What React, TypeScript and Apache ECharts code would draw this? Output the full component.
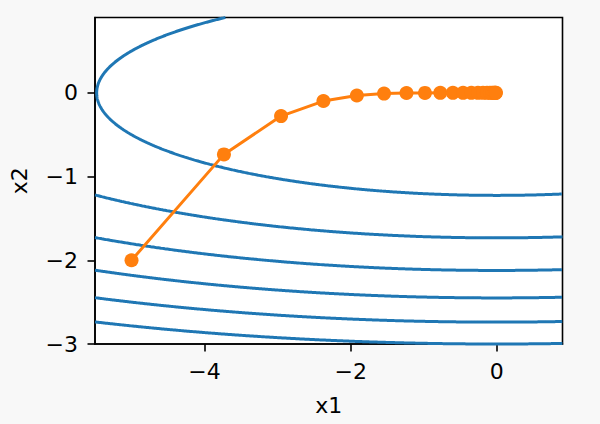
import React, { useEffect, useRef } from "react";
import * as echarts from "echarts";

// Axis ranges and tick labels
const x1Range = [-5.5, 0.9];
const x2Range = [-3, 0.9];
const x1Ticks = [-4, -2, 0];
const x2Ticks = [-3, -2, -1, 0];

// Objective f(x1, x2) = a*x1^2 + b*x2^2 and its contour levels
const coefX1 = 0.1;
const coefX2 = 2;
const contourLevels = [3, 6, 9, 12, 15, 18];

// Optimisation trajectory
const trajX1 = [
  -5, -3.735, -2.953, -2.373, -1.915, -1.543, -1.236, -0.983, -0.773, -0.601,
  -0.461, -0.348, -0.258, -0.188, -0.134, -0.094, -0.064, -0.043, -0.028,
  -0.017, -0.011,
];
const trajX2 = [
  -2, -0.735, -0.278, -0.098, -0.031, -0.0087, -0.0021, -0.0004, 0, 0, 0, 0,
  0, 0, 0, 0, 0, 0, 0, 0, 0,
];

const BLUE = "#1f77b4";
const ORANGE = "#ff7f0e";
const FONT = "DejaVu Sans";

function inside(p: number[]): boolean {
  return (
    p[0] >= x1Range[0] - 1e-9 &&
    p[0] <= x1Range[1] + 1e-9 &&
    p[1] >= x2Range[0] - 1e-9 &&
    p[1] <= x2Range[1] + 1e-9
  );
}

// Level curve of f inside the plotted domain, split into arcs
function levelArcs(level: number): number[][][] {
  const rx = Math.sqrt(level / coefX1);
  const ry = Math.sqrt(level / coefX2);
  const at = (t: number) => [rx * Math.cos(t), ry * Math.sin(t)];
  const n = 6000;
  const arcs: number[][][] = [];
  let cur: number[][] | null = null;
  let prevT = 0;
  let prevIn = inside(at(0));
  if (prevIn) cur = [at(0)];
  for (let i = 1; i <= n; i++) {
    const t = (i / n) * Math.PI * 2;
    const p = at(t);
    const isIn = inside(p);
    if (isIn !== prevIn) {
      // bisection for the boundary crossing
      let a = prevT;
      let b = t;
      for (let k = 0; k < 40; k++) {
        const m = (a + b) / 2;
        if (inside(at(m)) === prevIn) a = m;
        else b = m;
      }
      const edge = at(prevIn ? a : b);
      if (prevIn && cur) {
        cur.push(edge);
        arcs.push(cur);
        cur = null;
      } else {
        cur = [edge];
      }
    }
    if (isIn && cur) cur.push(p);
    prevIn = isIn;
    prevT = t;
  }
  if (cur && cur.length > 1) arcs.push(cur);
  return arcs;
}

const fmt = (v: number) => (v < 0 ? "\u2212" + Math.abs(v) : String(v));

export default function App() {
  const ref = useRef<HTMLDivElement>(null);
  useEffect(() => {
    if (!ref.current) return;
    const chart = echarts.init(ref.current, null, { renderer: "svg" });
    const contourSeries: any[] = [];
    contourLevels.forEach((lv) => {
      levelArcs(lv).forEach((arc) => {
        contourSeries.push({
          type: "line",
          data: arc,
          showSymbol: false,
          symbol: "none",
          silent: true,
          clip: false,
          lineStyle: { color: BLUE, width: 3 },
          z: 2,
        });
      });
    });
    chart.setOption({
      animation: false,
      backgroundColor: "#f8f8f8",
      grid: {
        left: 93,
        top: 17.5,
        right: 37.5,
        bottom: 80,
        show: true,
        backgroundColor: "#ffffff",
        borderColor: "#000",
        borderWidth: 1.6,
      },
      xAxis: {
        type: "value",
        min: x1Range[0],
        max: x1Range[1],
        name: "x1",
        nameLocation: "middle",
        nameGap: 50,
        nameTextStyle: { fontFamily: FONT, fontSize: 22, color: "#000" },
        axisLine: { show: true, onZero: false, lineStyle: { color: "#000", width: 1.6 } },
        axisTick: { show: true, length: 7.5, lineStyle: { color: "#000", width: 1.6 }, customValues: x1Ticks },
        axisLabel: {
          show: true,
          margin: 16,
          fontFamily: FONT,
          fontSize: 22,
          color: "#000",
          customValues: x1Ticks,
          formatter: fmt,
        },
        splitLine: { show: false },
      },
      yAxis: {
        type: "value",
        min: x2Range[0],
        max: x2Range[1],
        name: "x2",
        nameLocation: "middle",
        nameGap: 65,
        nameTextStyle: { fontFamily: FONT, fontSize: 22, color: "#000" },
        axisLine: { show: true, onZero: false, lineStyle: { color: "#000", width: 1.6 } },
        axisTick: { show: true, length: 7.5, lineStyle: { color: "#000", width: 1.6 }, customValues: x2Ticks },
        axisLabel: {
          show: true,
          margin: 17,
          fontFamily: FONT,
          fontSize: 22,
          color: "#000",
          customValues: x2Ticks,
          formatter: fmt,
        },
        splitLine: { show: false },
      },
      series: [
        ...contourSeries,
        {
          type: "line",
          data: trajX1.map((x, i) => [x, trajX2[i]]),
          symbol: "circle",
          symbolSize: 14,
          showSymbol: true,
          showAllSymbol: true,
          clip: true,
          itemStyle: { color: ORANGE, borderWidth: 0 },
          lineStyle: { color: ORANGE, width: 3 },
          z: 3,
        },
      ],
    });
    return () => chart.dispose();
  }, []);
  return (
    <div
      ref={ref}
      style={{ position: "fixed", left: 0, top: 0, width: 600, height: 424 }}
    />
  );
}
